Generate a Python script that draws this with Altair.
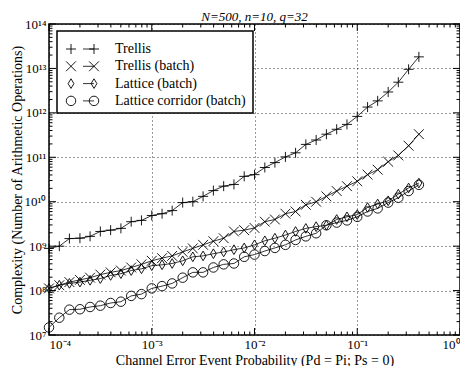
import altair as alt
import pandas as pd

# ---------------- data ----------------
series_names = ["Trellis", "Trellis (batch)", "Lattice (batch)", "Lattice corridor (batch)"]

prob = [1.00e-4, 1.26e-4, 1.58e-4, 2.00e-4, 2.51e-4, 3.16e-4, 3.98e-4, 5.01e-4, 6.31e-4, 7.94e-4,
        1.00e-3, 1.26e-3, 1.58e-3, 2.00e-3, 2.51e-3, 3.16e-3, 3.98e-3, 5.01e-3, 6.31e-3, 7.94e-3,
        1.00e-2, 1.26e-2, 1.58e-2, 2.00e-2, 2.51e-2, 3.16e-2, 3.98e-2, 5.01e-2, 6.31e-2, 7.94e-2,
        1.00e-1, 1.26e-1, 1.58e-1, 2.00e-1, 2.51e-1, 3.16e-1, 3.98e-1]

trellis = [8.9e8, 1.0e9, 1.48e9, 1.51e9, 1.66e9, 2.14e9, 2.29e9, 2.51e9, 3.55e9, 3.80e9,
           4.90e9, 5.37e9, 6.31e9, 9.55e9, 1.0e10, 1.32e10, 1.78e10, 2.24e10, 2.45e10, 3.72e10,
           4.07e10, 5.89e10, 7.59e10, 1.02e11, 1.26e11, 1.95e11, 2.45e11, 3.31e11, 4.27e11, 5.50e11,
           8.32e11, 1.35e12, 1.86e12, 2.95e12, 4.90e12, 9.55e12, 1.82e13]

trellis_batch = [1.12e8, 1.32e8, 1.55e8, 1.74e8, 1.95e8, 2.29e8, 2.57e8, 2.82e8, 3.31e8, 3.89e8,
                 4.68e8, 5.37e8, 6.03e8, 7.41e8, 8.91e8, 1.07e9, 1.29e9, 1.51e9, 2.14e9, 2.29e9,
                 2.57e9, 3.55e9, 3.98e9, 5.37e9, 6.03e9, 8.51e9, 1.0e10, 1.32e10, 1.74e10, 2.24e10,
                 2.88e10, 4.07e10, 5.25e10, 7.94e10, 1.10e11, 1.82e11, 3.31e11]

lattice_batch = [1.12e8, 1.32e8, 1.45e8, 1.55e8, 1.70e8, 1.86e8, 2.19e8, 2.40e8, 2.82e8, 3.09e8,
                 3.63e8, 3.80e8, 4.07e8, 4.68e8, 5.75e8, 6.03e8, 6.76e8, 7.41e8, 8.32e8, 9.12e8,
                 1.07e9, 1.32e9, 1.51e9, 1.78e9, 2.14e9, 2.51e9, 2.75e9, 2.95e9, 3.98e9, 4.57e9,
                 5.13e9, 7.41e9, 8.91e9, 1.05e10, 1.48e10, 2.04e10, 2.63e10]

lattice_corridor = [1.48e7, 2.45e7, 3.72e7, 3.80e7, 4.27e7, 4.57e7, 5.25e7, 5.62e7, 7.59e7, 8.32e7,
                    1.12e8, 1.26e8, 1.45e8, 1.95e8, 2.57e8, 2.57e8, 3.31e8, 3.89e8, 4.07e8, 5.75e8,
                    6.46e8, 7.76e8, 9.12e8, 1.07e9, 1.38e9, 1.66e9, 1.95e9, 2.95e9, 3.39e9, 3.80e9,
                    4.57e9, 6.03e9, 7.08e9, 9.55e9, 1.23e10, 1.74e10, 2.40e10]

x_major = [1e-4, 1e-3, 1e-2, 1e-1, 1e0]
y_major = [1e7, 1e8, 1e9, 1e10, 1e11, 1e12, 1e13, 1e14]
x_minor = [m * d for d in [1e-4, 1e-3, 1e-2, 1e-1] for m in range(2, 10)]
y_minor = [m * d for d in [1e7, 1e8, 1e9, 1e10, 1e11, 1e12, 1e13] for m in range(2, 10)]

title_text = "N=500, n=10, q=32"
x_title = "Channel Error Event Probability (Pd = Pi; Ps = 0)"
y_title = "Complexity (Number of Arithmetic Operations)"

# ---------------- layout / style ----------------
W, H = 411, 311
FONT = "Liberation Serif"

rows = []
for name, vals in zip(series_names, [trellis, trellis_batch, lattice_batch, lattice_corridor]):
    for p, v in zip(prob, vals):
        rows.append({"p": p, "c": v, "series": name})
df = pd.DataFrame(rows)

xs = alt.Scale(type="log", domain=[1e-4, 1], nice=False)
ys = alt.Scale(type="log", domain=[1e7, 1e14], nice=False)

SUP = str.maketrans("-0123456789", "⁻⁰¹²³⁴⁵⁶⁷⁸⁹")


def sup_expr(exps):
    parts = [f"round(log(datum.value)/LN10)=={e} ? '10{str(e).translate(SUP)}'" for e in exps]
    return " : ".join(parts) + " : ''"


x_axis = alt.Axis(values=x_major, labelExpr=sup_expr([-4, -3, -2, -1, 0]),
                  title=x_title, grid=True, ticks=False, domain=False,
                  labelPadding=3, titlePadding=2)
y_axis = alt.Axis(values=y_major, labelExpr=sup_expr(list(range(7, 15))),
                  title=y_title, grid=True, ticks=False, domain=False,
                  labelPadding=3, titlePadding=0)

shape_scale = alt.Scale(
    domain=series_names,
    range=["M-1,0L1,0M0,-1L0,1",
           "M-1,-1L1,1M-1,1L1,-1",
           "M0,-1L0.6,0L0,1L-0.6,0Z",
           "circle"],
)
size_scale = alt.Scale(domain=series_names, range=[100, 90, 160, 95])

base = alt.Chart(df)

lines = base.mark_line(color="black", strokeWidth=0.8).encode(
    x=alt.X("p:Q", scale=xs, axis=x_axis),
    y=alt.Y("c:Q", scale=ys, axis=y_axis),
    detail="series:N",
)

points = base.mark_point(filled=False, color="black", strokeWidth=0.9, opacity=1).encode(
    x=alt.X("p:Q", scale=xs, axis=x_axis),
    y=alt.Y("c:Q", scale=ys, axis=y_axis),
    shape=alt.Shape("series:N", scale=shape_scale, legend=None),
    size=alt.Size("series:N", scale=size_scale, legend=None),
)


def tick_layer(vals, axis, side, length):
    d = alt.Chart(pd.DataFrame({"v": vals})).mark_rule(color="black", strokeWidth=1)
    if axis == "x":
        y0 = H if side == "bottom" else 0
        y1 = H - length if side == "bottom" else length
        return d.encode(x=alt.X("v:Q", scale=xs, axis=x_axis), y=alt.value(y0), y2=alt.value(y1))
    x0 = 0 if side == "left" else W
    x1 = length if side == "left" else W - length
    return d.encode(y=alt.Y("v:Q", scale=ys, axis=y_axis), x=alt.value(x0), x2=alt.value(x1))


ticks = [
    tick_layer(x_major, "x", "bottom", 7), tick_layer(x_major, "x", "top", 7),
    tick_layer(x_minor, "x", "bottom", 3.5), tick_layer(x_minor, "x", "top", 3.5),
    tick_layer(y_major, "y", "left", 7), tick_layer(y_major, "y", "right", 7),
    tick_layer(y_minor, "y", "left", 3.5), tick_layer(y_minor, "y", "right", 3.5),
]

# ---------------- title (as a text mark just above the frame) ----------------
title_mark = alt.Chart(pd.DataFrame({"t": [title_text]})).mark_text(
    font=FONT, fontSize=13, fontStyle="italic", color="black",
    align="center", baseline="alphabetic"
).encode(x=alt.value(W / 2), y=alt.value(-3), text="t:N")

# ---------------- legend ----------------
leg_df = pd.DataFrame({"series": series_names, "idx": list(range(len(series_names)))})
leg = alt.Chart(leg_df).transform_calculate(py="25 + datum.idx * 17.3")

leg_box = alt.Chart(pd.DataFrame({"a": [0]})).mark_rect(
    fill="white", stroke="black", strokeWidth=1.5
).encode(x=alt.value(8), x2=alt.value(204), y=alt.value(7), y2=alt.value(89))

leg_line = leg.mark_rule(color="black", strokeWidth=0.8).encode(
    x=alt.value(34), x2=alt.value(45), y=alt.Y("py:Q", scale=None)
)
leg_pt1 = leg.mark_point(filled=False, color="black", strokeWidth=0.9, opacity=1).encode(
    x=alt.value(22), y=alt.Y("py:Q", scale=None),
    shape=alt.Shape("series:N", scale=shape_scale, legend=None),
    size=alt.Size("series:N", scale=size_scale, legend=None),
)
leg_pt2 = leg.mark_point(filled=False, color="black", strokeWidth=0.9, opacity=1).encode(
    x=alt.value(45), y=alt.Y("py:Q", scale=None),
    shape=alt.Shape("series:N", scale=shape_scale, legend=None),
    size=alt.Size("series:N", scale=size_scale, legend=None),
)
leg_text = leg.mark_text(align="left", baseline="middle", font=FONT, fontSize=14, color="black").encode(
    x=alt.value(66), y=alt.Y("py:Q", scale=None), text="series:N"
)

chart = alt.layer(
    lines, points, *ticks, title_mark, leg_box, leg_line, leg_pt1, leg_pt2, leg_text
).properties(
    width=W, height=H,
    autosize=alt.AutoSizeParams(type="none"),
    padding={"left": 41, "top": 16, "right": 0, "bottom": 31},
).configure_view(
    stroke="black", strokeWidth=1.5
).configure_axis(
    labelFont=FONT, labelFontSize=13, labelColor="black",
    titleFont=FONT, titleFontSize=14, titleFontWeight="normal", titleColor="black",
    gridColor="black", gridDash=[1, 3], gridWidth=0.8, gridOpacity=1,
)

chart.save("out.html", embed_options={"renderer": "svg", "actions": False})
